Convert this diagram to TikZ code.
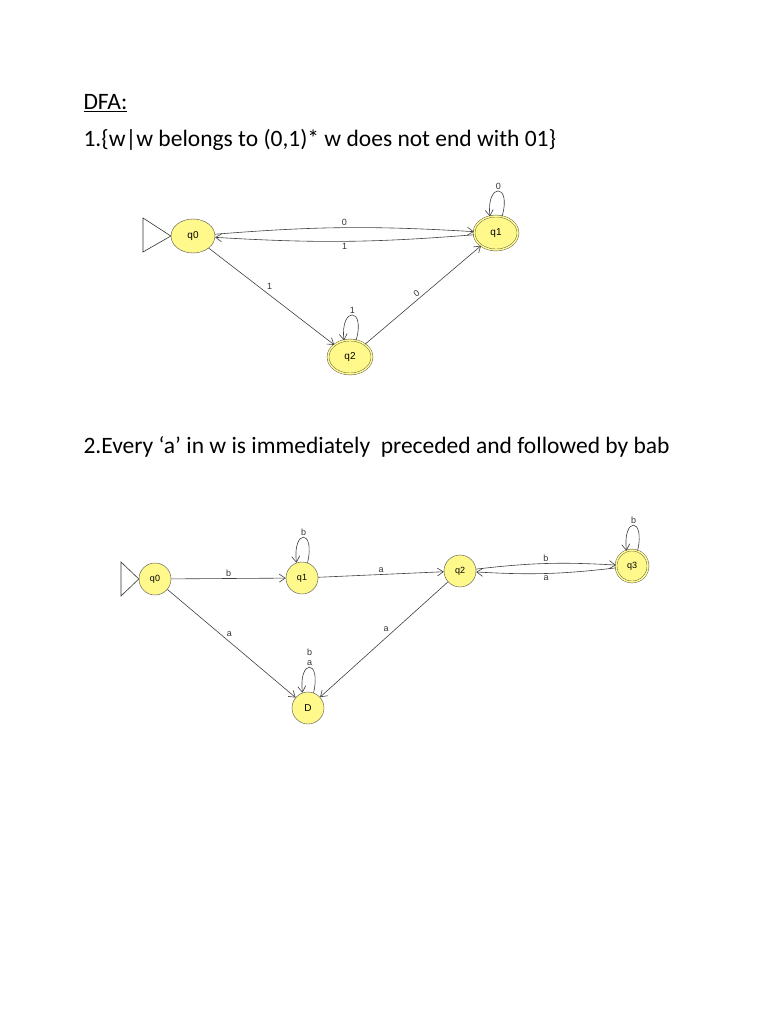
\documentclass[tikz,border=0pt]{standalone}
\usepackage{fontspec}
\setmainfont{Carlito}
\newfontfamily\lab{Liberation Sans}
\usetikzlibrary{arrows.meta,shapes.geometric}
\begin{document}
\begin{tikzpicture}[x=1pt,y=-1pt,
  st/.style={draw=black!70,fill=yellow!45,ellipse,minimum width=44pt,minimum height=34pt,inner sep=0pt,font=\lab\fontsize{10}{10}\selectfont},
  st2/.style={draw=black!70,fill=yellow!45,circle,minimum size=32pt,inner sep=0pt,font=\lab\fontsize{9}{9}\selectfont},
  acc/.style={double=yellow!45,double distance=1.5pt},
  tr/.style={-{Straight Barb[length=6pt,width=8pt]},black!75,line width=0.6pt},
  el/.style={font=\lab\fontsize{9}{9}\selectfont,text=black!80,inner sep=1.5pt},
  init/.style={draw=black!80,line width=0.6pt}]
\useasboundingbox (0,0) rectangle (768,1024);
\node[anchor=base west,font=\fontsize{23.5}{23.5}\selectfont] (h) at (80,110) {\underline{DFA:}};
\node[anchor=base west,font=\fontsize{23.5}{23.5}\selectfont] (t1) at (80,147) {1.\{w|w belongs to (0,1)* w does not end with 01\}};
\node[anchor=base west,font=\fontsize{23.5}{23.5}\selectfont] (t2) at (80,453) {2.Every ‘a’ in w is immediately\ \ preceded and followed by bab};
% diagram 1
\node[st] (a0) at (193,236) {q0};
\node[st,acc] (a1) at (496,233) {q1};
\node[st,acc] (a2) at (350,357) {q2};
\draw[init] (a0.west) -- (143,218) -- (143,252) -- cycle;
\draw[tr] (a0) to[bend left=4] node[el,above] {0} (a1);
\draw[tr] (a1) to[bend left=4] node[el,below] {1} (a0);
\draw[tr] (a0) -- node[el,above right,pos=0.45] {1} (a2);
\draw[tr] (a2) -- node[el,above left,pos=0.5,rotate=40] {0} (a1);
\draw[tr] (a1.70) .. controls +(10,-34) and +(-4,-34) .. node[el,above] {0} (a1.110);
\draw[tr] (a2.70) .. controls +(10,-34) and +(-4,-34) .. node[el,above] {1} (a2.110);
% diagram 2
\node[st2] (b0) at (155,579) {q0};
\node[st2] (b1) at (302,578) {q1};
\node[st2] (b2) at (460,571) {q2};
\node[st2,acc] (b3) at (632,566) {q3};
\node[st2,font=\lab\fontsize{10}{10}\selectfont] (bd) at (308,708) {D};
\draw[init] (b0.west) -- (121,562) -- (121,596) -- cycle;
\draw[tr] (b0) -- node[el,above] {b} (b1);
\draw[tr] (b1) -- node[el,above] {a} (b2);
\draw[tr] (b2) to[bend left=5] node[el,above] {b} (b3);
\draw[tr] (b3) to[bend left=5] node[el,below] {a} (b2);
\draw[tr] (b0) -- node[el,above right,pos=0.45] {a} (bd);
\draw[tr] (b2) -- node[el,above left,pos=0.45] {a} (bd);
\draw[tr] (b1.70) .. controls +(8,-34) and +(-4,-34) .. node[el,above] {b} (b1.110);
\draw[tr] (b3.70) .. controls +(8,-34) and +(-4,-34) .. node[el,above] {b} (b3.110);
\draw[tr] (bd.70) .. controls +(8,-34) and +(-4,-34) .. node[el,above,align=center] {b\\[1pt]a} (bd.110);
\end{tikzpicture}
\end{document}
